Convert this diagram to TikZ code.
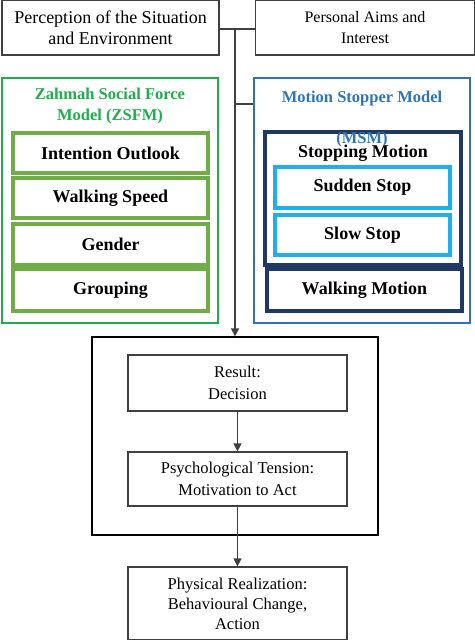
\documentclass[tikz,border=0pt]{standalone}
\usepackage{fontspec}
\setmainfont{Liberation Serif}
\usetikzlibrary{arrows.meta}
\definecolor{zgreen}{HTML}{1FAE4B}
\definecolor{olive}{HTML}{70AD47}
\definecolor{mblue}{HTML}{2E75B6}
\definecolor{navy}{HTML}{1F3864}
\definecolor{lblue}{HTML}{1FB0EA}
\definecolor{edge}{HTML}{404040}
\tikzset{
  plainbox/.style={draw=edge, line width=1.2pt, fill=white, inner sep=0pt, align=center},
  outerbox/.style={line width=2.6pt, inner sep=0pt},
  subbox/.style={line width=3.8pt, fill=white, inner sep=0pt, align=center, font=\bfseries\fontsize{18}{21}\selectfont},
  link/.style={draw=edge, line width=1.2pt},
  arr/.style={link, -{Triangle[width=8pt,length=8pt]}}
}
\begin{document}
\begin{tikzpicture}[x=1pt,y=-1pt]
\useasboundingbox (0,0) rectangle (474,640);
% top boxes
\node[plainbox, minimum width=217pt, minimum height=55pt, font=\fontsize{18}{21}\selectfont] (perc) at (110.5,27.5) {Perception of the Situation\\and Environment};
\node[plainbox, minimum width=219pt, minimum height=55pt, font=\fontsize{16}{21}\selectfont] (aims) at (365,27.5) {Personal Aims and\\Interest};
\coordinate (j) at (235,29);
\coordinate (jm) at (235,104);
\draw[link] (perc.east |- j) -- (aims.west |- j);
% ZSFM
\node[outerbox, draw=zgreen, minimum width=216pt, minimum height=245pt] (zsfm) at (110,200.5) {};
\node[font=\bfseries\fontsize{16.5}{21}\selectfont, text=zgreen, align=center] (ztitle) at (110,106.5) {Zahmah Social Force\\Model (ZSFM)};
\node[subbox, draw=olive, minimum width=195pt, minimum height=40pt] (io) at (110.5,153) {Intention Outlook};
\node[subbox, draw=olive, minimum width=195pt, minimum height=40pt] (ws) at (110.5,198) {Walking Speed};
\node[subbox, draw=olive, minimum width=195pt, minimum height=41pt] (ge) at (110.5,244.5) {Gender};
\node[subbox, draw=olive, minimum width=195pt, minimum height=42pt] (gr) at (110.5,290) {Grouping};
% MSM
\node[outerbox, draw=mblue, minimum width=216pt, minimum height=245pt] (msm) at (362,200.5) {};
\node[subbox, draw=navy, minimum width=196pt, minimum height=133pt] (stop) at (363,198.5) {};
\node[font=\bfseries\fontsize{18}{21}\selectfont] (stoptxt) at (363,153) {Stopping Motion};
\node[subbox, draw=lblue, minimum width=175pt, minimum height=41pt] (sud) at (362.5,187.5) {Sudden Stop};
\node[subbox, draw=lblue, minimum width=175pt, minimum height=40pt] (slow) at (362.5,235) {Slow Stop};
\node[subbox, draw=navy, minimum width=195pt, minimum height=42pt] (walk) at (364.5,290) {Walking Motion};
\node[font=\bfseries\fontsize{16.5}{20}\selectfont, text=mblue, align=center] (mtitle) at (362,119) {Motion Stopper Model\\[21pt](MSM)};
% lower part
\node[plainbox, draw=black, minimum width=286pt, minimum height=198pt] (big) at (235,436) {};
\node[plainbox, minimum width=219pt, minimum height=56pt, font=\fontsize{16.5}{21.5}\selectfont] (res) at (237.5,383) {Result:\\Decision};
\node[plainbox, minimum width=219pt, minimum height=54pt, font=\fontsize{16.5}{21.5}\selectfont] (psy) at (237.5,479) {Psychological Tension:\\Motivation to Act};
\node[plainbox, minimum width=219pt, minimum height=73pt, font=\fontsize{16.5}{20}\selectfont] (phy) at (237.5,603.5) {Physical Realization:\\Behavioural Change,\\Action};
% connectors
\draw[link] (j) -- (jm);
\draw[link] (jm) -- (msm.west |- jm);
\draw[arr] (jm) -- (j |- big.north);
\draw[arr] (res) -- (psy);
\draw[arr] (psy) -- (phy);
\end{tikzpicture}
\end{document}
